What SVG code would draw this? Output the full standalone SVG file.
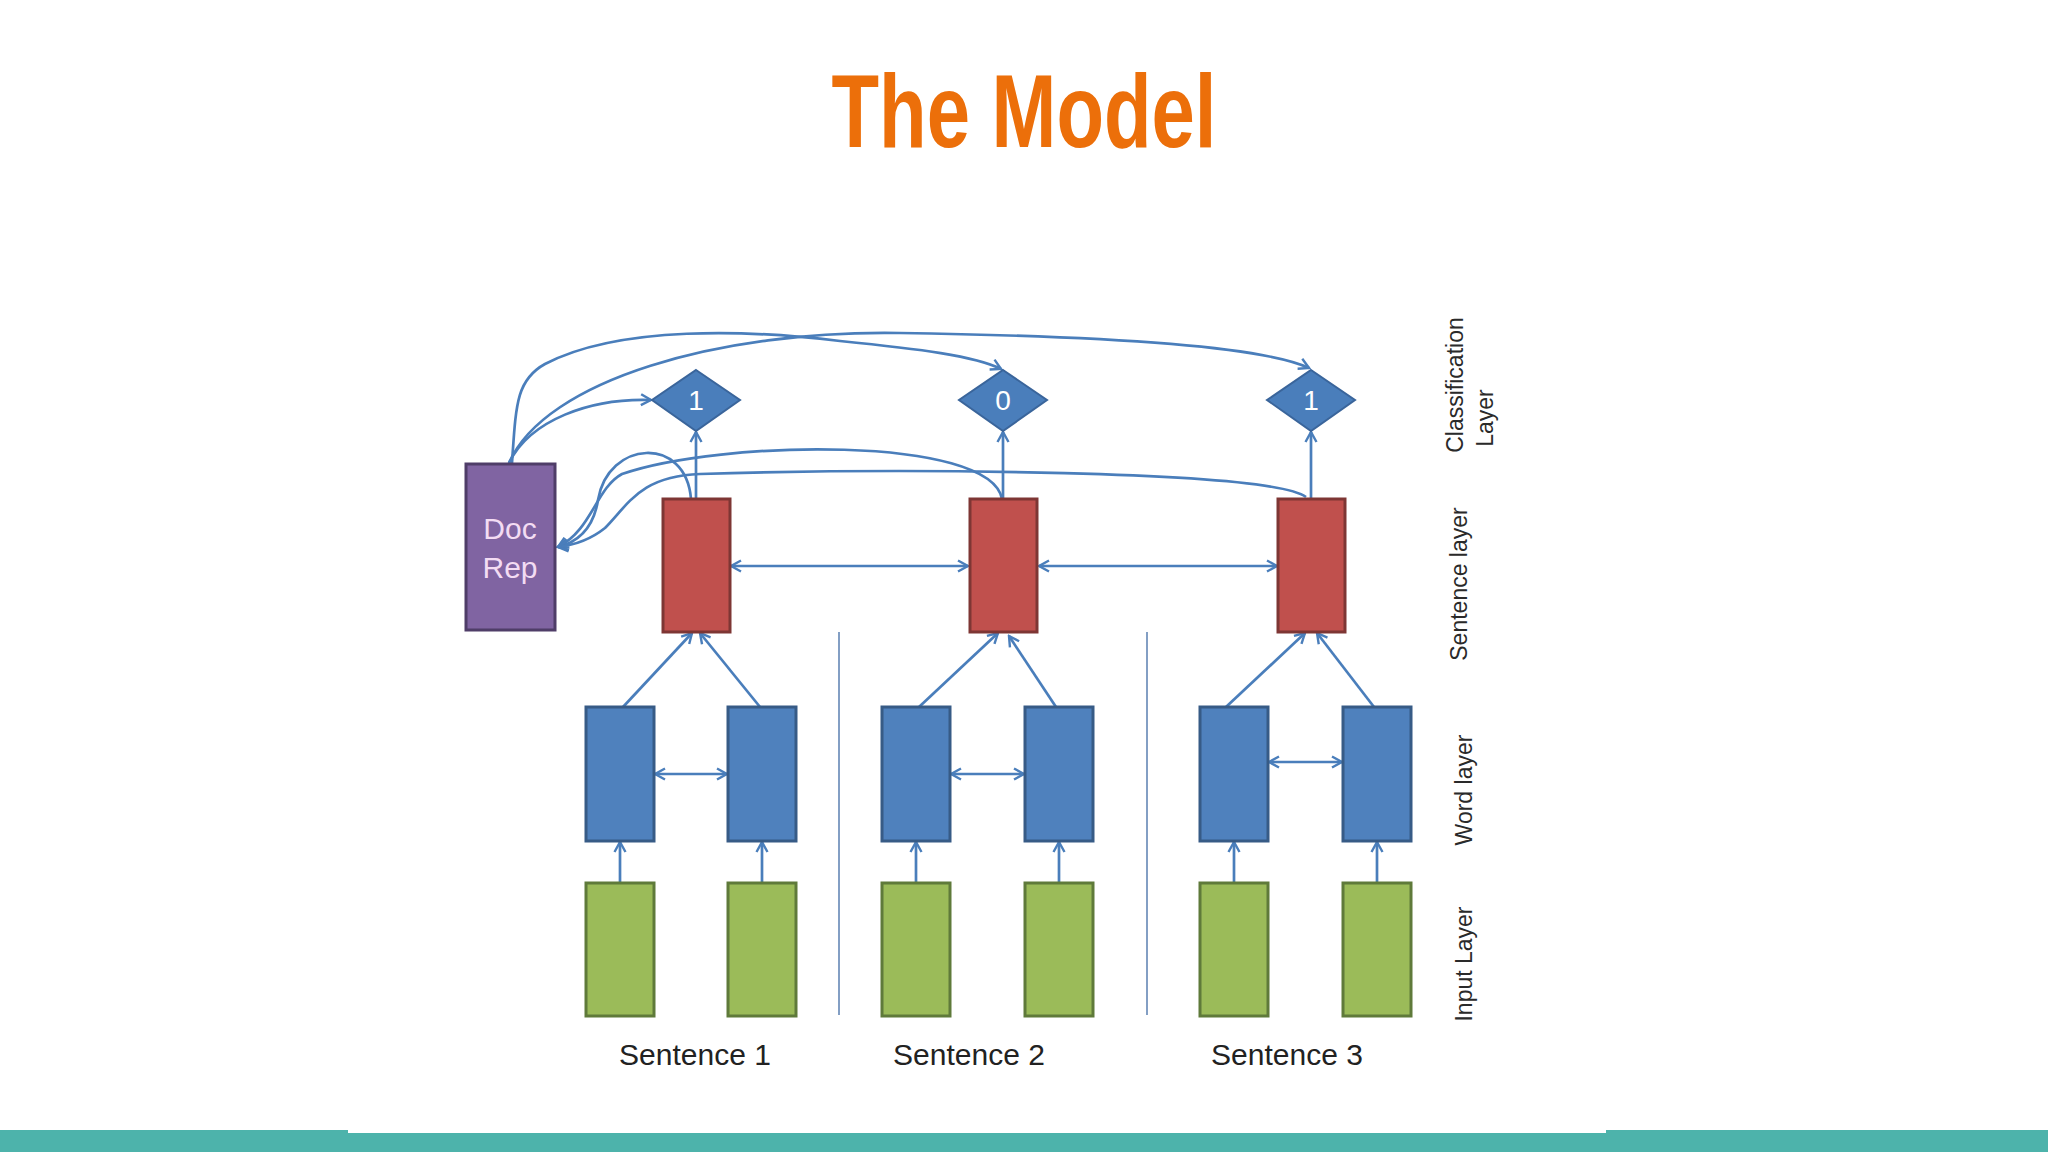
<svg xmlns="http://www.w3.org/2000/svg" width="2048" height="1152" viewBox="0 0 2048 1152">
<defs>
<marker id="ah" viewBox="0 0 14 14" refX="12" refY="7" markerWidth="14" markerHeight="14" markerUnits="userSpaceOnUse" orient="auto-start-reverse">
<path d="M2,1.5 L12,7 L2,12.5" fill="none" stroke="#4a7ebb" stroke-width="2.4" stroke-linejoin="miter"/>
</marker>
</defs>
<style>
.bg{fill:#ffffff}
.title{font-family:"Liberation Sans",Arial,sans-serif;font-weight:bold;font-size:103px;fill:#ec6f0a}
.lbl{font-family:"Liberation Sans",Arial,sans-serif;font-size:30px;fill:#222222}
.side{font-family:"Liberation Sans",Arial,sans-serif;font-size:23px;fill:#2a2a2a}
.conn{fill:none;stroke:#4a7ebb;stroke-width:2.7}
.sep{fill:none;stroke:#5a7fb0;stroke-width:1.5}
.red{fill:#c0504d;stroke:#7e3634;stroke-width:3}
.blue{fill:#4f81bd;stroke:#375b86;stroke-width:3}
.green{fill:#9bbb59;stroke:#5f7a3a;stroke-width:3}
.purple{fill:#8064a2;stroke:#4f3d68;stroke-width:3}
.dia{fill:#4a7ebb;stroke:#3a659b;stroke-width:2}
.dtxt{font-family:"Liberation Sans",Arial,sans-serif;font-size:28px;fill:#ffffff;text-anchor:middle}
.doctxt{font-family:"Liberation Sans",Arial,sans-serif;font-size:30px;fill:#f3dcf3;text-anchor:middle}
.bar{fill:#4db3ab}
</style>
<rect class="bg" x="0" y="0" width="2048" height="1152"/>
<text class="title" x="1024" y="147" text-anchor="middle" textLength="385" lengthAdjust="spacingAndGlyphs">The Model</text>

<g id="connectors">
<!-- separators -->
<line class="sep" x1="839" y1="632" x2="839" y2="1015"/>
<line class="sep" x1="1147" y1="632" x2="1147" y2="1015"/>
<!-- doc rep to classification -->
<path class="conn" marker-end="url(#ah)" d="M509,463 C530,420 590,398 651,400"/>
<path class="conn" marker-end="url(#ah)" d="M512,463 C516,405 516,380 545,364 C620,325 750,330 840,341 C920,349 975,356 1001,369"/>
<path class="conn" marker-end="url(#ah)" d="M509,463 C545,380 720,330 900,333 C1100,336 1260,345 1309,368"/>
<!-- sentence to doc rep -->
<path class="conn" marker-end="url(#ah)" d="M691,499 C686,435 608,440 598,500 C594,525 582,541 558,547"/>
<path class="conn" marker-end="url(#ah)" d="M1002,499 C990,435 720,440 622,474 C596,488 592,530 558,547"/>
<path class="conn" marker-end="url(#ah)" d="M1306,497 C1270,470 900,468 700,474 C640,476 628,505 605,528 C590,540 575,545 558,547"/>
<!-- sentence to classification -->
<line class="conn" marker-end="url(#ah)" x1="696" y1="499" x2="696" y2="432"/>
<line class="conn" marker-end="url(#ah)" x1="1003" y1="499" x2="1003" y2="432"/>
<line class="conn" marker-end="url(#ah)" x1="1311" y1="499" x2="1311" y2="432"/>
<!-- sentence bidirectional -->
<line class="conn" marker-start="url(#ah)" marker-end="url(#ah)" x1="731" y1="566" x2="968" y2="566"/>
<line class="conn" marker-start="url(#ah)" marker-end="url(#ah)" x1="1039" y1="566" x2="1277" y2="566"/>
<!-- word to sentence -->
<line class="conn" marker-end="url(#ah)" x1="623" y1="707" x2="692" y2="633"/>
<line class="conn" marker-end="url(#ah)" x1="760" y1="707" x2="700" y2="633"/>
<line class="conn" marker-end="url(#ah)" x1="919" y1="707" x2="998" y2="633"/>
<line class="conn" marker-end="url(#ah)" x1="1056" y1="707" x2="1009" y2="636"/>
<line class="conn" marker-end="url(#ah)" x1="1226" y1="707" x2="1305" y2="633"/>
<line class="conn" marker-end="url(#ah)" x1="1374" y1="707" x2="1317" y2="633"/>
<!-- word bidirectional -->
<line class="conn" marker-start="url(#ah)" marker-end="url(#ah)" x1="655" y1="774" x2="727" y2="774"/>
<line class="conn" marker-start="url(#ah)" marker-end="url(#ah)" x1="951" y1="774" x2="1024" y2="774"/>
<line class="conn" marker-start="url(#ah)" marker-end="url(#ah)" x1="1269" y1="762" x2="1342" y2="762"/>
<!-- input to word -->
<line class="conn" marker-end="url(#ah)" x1="620" y1="883" x2="620" y2="842"/>
<line class="conn" marker-end="url(#ah)" x1="762" y1="883" x2="762" y2="842"/>
<line class="conn" marker-end="url(#ah)" x1="916" y1="883" x2="916" y2="842"/>
<line class="conn" marker-end="url(#ah)" x1="1059" y1="883" x2="1059" y2="842"/>
<line class="conn" marker-end="url(#ah)" x1="1234" y1="883" x2="1234" y2="842"/>
<line class="conn" marker-end="url(#ah)" x1="1377" y1="883" x2="1377" y2="842"/>
</g>

<g id="docrep">
<rect class="purple" x="466" y="464" width="89" height="166"/>
<text class="doctxt" x="510" y="539">Doc</text>
<text class="doctxt" x="510" y="578">Rep</text>
</g>

<g id="cls1"><polygon class="dia" points="696,370 740,400 696,431 652,400"/><text class="dtxt" x="696" y="410">1</text></g>
<g id="cls2"><polygon class="dia" points="1003,370 1047,400 1003,431 959,400"/><text class="dtxt" x="1003" y="410">0</text></g>
<g id="cls3"><polygon class="dia" points="1311,370 1355,400 1311,431 1267,400"/><text class="dtxt" x="1311" y="410">1</text></g>

<g id="sent1"><rect class="red" x="663" y="499" width="67" height="133"/></g>
<g id="sent2"><rect class="red" x="970" y="499" width="67" height="133"/></g>
<g id="sent3"><rect class="red" x="1278" y="499" width="67" height="133"/></g>

<g id="word1a"><rect class="blue" x="586" y="707" width="68" height="134"/></g>
<g id="word1b"><rect class="blue" x="728" y="707" width="68" height="134"/></g>
<g id="word2a"><rect class="blue" x="882" y="707" width="68" height="134"/></g>
<g id="word2b"><rect class="blue" x="1025" y="707" width="68" height="134"/></g>
<g id="word3a"><rect class="blue" x="1200" y="707" width="68" height="134"/></g>
<g id="word3b"><rect class="blue" x="1343" y="707" width="68" height="134"/></g>

<g id="in1a"><rect class="green" x="586" y="883" width="68" height="133"/></g>
<g id="in1b"><rect class="green" x="728" y="883" width="68" height="133"/></g>
<g id="in2a"><rect class="green" x="882" y="883" width="68" height="133"/></g>
<g id="in2b"><rect class="green" x="1025" y="883" width="68" height="133"/></g>
<g id="in3a"><rect class="green" x="1200" y="883" width="68" height="133"/></g>
<g id="in3b"><rect class="green" x="1343" y="883" width="68" height="133"/></g>

<g id="labels">
<text class="lbl" x="695" y="1065" text-anchor="middle">Sentence 1</text>
<text class="lbl" x="969" y="1065" text-anchor="middle">Sentence 2</text>
<text class="lbl" x="1287" y="1065" text-anchor="middle">Sentence 3</text>
<text class="side" text-anchor="middle" transform="translate(1463,385) rotate(-90)">Classification</text>
<text class="side" text-anchor="middle" transform="translate(1493,418) rotate(-90)">Layer</text>
<text class="side" text-anchor="middle" transform="translate(1467,584) rotate(-90)">Sentence layer</text>
<text class="side" text-anchor="middle" transform="translate(1472,790) rotate(-90)">Word layer</text>
<text class="side" text-anchor="middle" transform="translate(1472,964) rotate(-90)">Input Layer</text>
</g>

<g id="footer">
<rect class="bar" x="0" y="1130" width="348" height="22"/>
<rect class="bar" x="348" y="1133" width="1258" height="19"/>
<rect class="bar" x="1606" y="1130" width="442" height="22"/>
</g>
</svg>
